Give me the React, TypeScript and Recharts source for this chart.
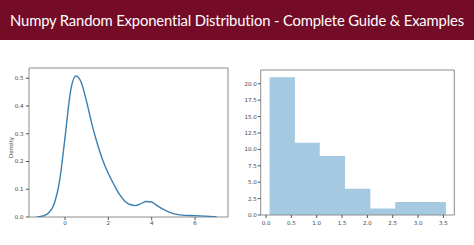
import React from "react";
import {
  LineChart,
  Line,
  AreaChart,
  Area,
  XAxis,
  YAxis,
  ReferenceArea,
  Label
} from "recharts";

// KDE curve (left panel)
const kdeX = [
  -1.3, -1.0, -0.75, -0.5, -0.25, 0, 0.25, 0.5, 0.75, 1.0, 1.25, 1.5, 1.75,
  2.0, 2.25, 2.5, 2.75, 3.0, 3.25, 3.5, 3.75, 4.0, 4.25, 4.5, 4.75, 5.0, 5.5,
  6.0, 6.5, 7.0
];
const kdeDensity = [
  0, 0.004, 0.015, 0.047, 0.13, 0.285, 0.45, 0.508, 0.485, 0.415, 0.332,
  0.262, 0.203, 0.157, 0.118, 0.083, 0.058, 0.045, 0.041, 0.048, 0.056, 0.054,
  0.041, 0.029, 0.019, 0.012, 0.006, 0.005, 0.003, 0.0005
];
const kdeXTicks = [0, 2, 4, 6];
const kdeYTicks = [0, 0.1, 0.2, 0.3, 0.4, 0.5];
const kdeXDomain = [-1.66, 7.52];
const kdeYDomain = [0, 0.537];

// histogram (right panel): bin edges and counts
const binEdges = [0.07, 0.57, 1.06, 1.56, 2.06, 2.55, 3.05, 3.55];
const binCounts = [21, 11, 9, 4, 1, 2, 2];
const histXTicks = [0, 0.5, 1, 1.5, 2, 2.5, 3, 3.5];
const histYTicks = [0, 2.5, 5, 7.5, 10, 12.5, 15, 17.5, 20];
const histXDomain = [-0.105, 3.716];
const histYDomain = [0, 22.1];

const title =
  "Numpy Random Exponential Distribution - Complete Guide & Examples";

const kdeData = kdeX.map((x, i) => ({ x, density: kdeDensity[i] }));
// step area: each edge carries the count of the bin that starts there
const histData = binEdges.map((x, i) => ({
  x,
  count: binCounts[Math.min(i, binCounts.length - 1)]
}));

const tickStyle = { fontSize: 5.5, fill: "#444", fontFamily: "DejaVu Sans" };
const frame = "#8c8c8c";
const oneDecimal = (v: number) => v.toFixed(1);

export default function App() {
  return (
    <div
      style={{
        position: "absolute",
        left: 0,
        top: 0,
        width: 474,
        height: 245,
        background: "#fff",
        overflow: "hidden"
      }}
    >
      <div
        style={{
          height: 40,
          lineHeight: "40px",
          background: "#740b27",
          color: "#fff",
          textAlign: "center",
          fontFamily: "Lato",
          fontSize: 14.8,
          letterSpacing: -0.15,
          whiteSpace: "nowrap"
        }}
      >
        {title}
      </div>

      <div style={{ position: "absolute", left: 0, top: 60 }}>
        <LineChart
          width={240}
          height={185}
          data={kdeData}
          margin={{ top: 8, right: 12, bottom: 0, left: 0 }}
        >
          <XAxis
            dataKey="x"
            type="number"
            domain={kdeXDomain}
            ticks={kdeXTicks}
            allowDataOverflow
            height={28}
            tick={tickStyle}
            tickSize={3}
            tickMargin={1.5}
            tickLine={{ stroke: "#555" }}
            axisLine={false}
          />
          <YAxis
            type="number"
            domain={kdeYDomain}
            ticks={kdeYTicks}
            allowDataOverflow
            width={29}
            tick={tickStyle}
            tickFormatter={oneDecimal}
            tickSize={3}
            tickMargin={2.5}
            tickLine={{ stroke: "#555" }}
            axisLine={false}
          >
            <Label
              value="Density"
              angle={-90}
              position="center"
              dx={-3.5}
              dy={5}
              style={{ fontSize: 5.5, fill: "#444", fontFamily: "DejaVu Sans" }}
            />
          </YAxis>
          <ReferenceArea
            x1={kdeXDomain[0]}
            x2={kdeXDomain[1]}
            y1={kdeYDomain[0]}
            y2={kdeYDomain[1]}
            fill="none"
            stroke={frame}
            strokeWidth={1}
            ifOverflow="visible"
          />
          <Line
            dataKey="density"
            type="monotone"
            stroke="#3b7fb0"
            strokeWidth={1.4}
            dot={false}
            isAnimationActive={false}
          />
        </LineChart>
      </div>

      <div style={{ position: "absolute", left: 240, top: 60 }}>
        <AreaChart
          width={234}
          height={185}
          data={histData}
          margin={{ top: 10, right: 19.7, bottom: 0, left: 0 }}
        >
          <XAxis
            dataKey="x"
            type="number"
            domain={histXDomain}
            ticks={histXTicks}
            allowDataOverflow
            height={30}
            tick={tickStyle}
            tickFormatter={oneDecimal}
            tickSize={3}
            tickMargin={3}
            tickLine={{ stroke: "#555" }}
            axisLine={false}
          />
          <YAxis
            type="number"
            domain={histYDomain}
            ticks={histYTicks}
            allowDataOverflow
            width={20.7}
            tick={tickStyle}
            tickFormatter={oneDecimal}
            tickSize={3}
            tickMargin={1}
            tickLine={{ stroke: "#555" }}
            axisLine={false}
          />
          <Area
            dataKey="count"
            type="stepAfter"
            fill="#a5c9e1"
            fillOpacity={1}
            stroke="none"
            isAnimationActive={false}
          />
          <ReferenceArea
            x1={histXDomain[0]}
            x2={histXDomain[1]}
            y1={histYDomain[0]}
            y2={histYDomain[1]}
            fill="none"
            stroke={frame}
            strokeWidth={1}
            ifOverflow="visible"
          />
        </AreaChart>
      </div>
    </div>
  );
}
